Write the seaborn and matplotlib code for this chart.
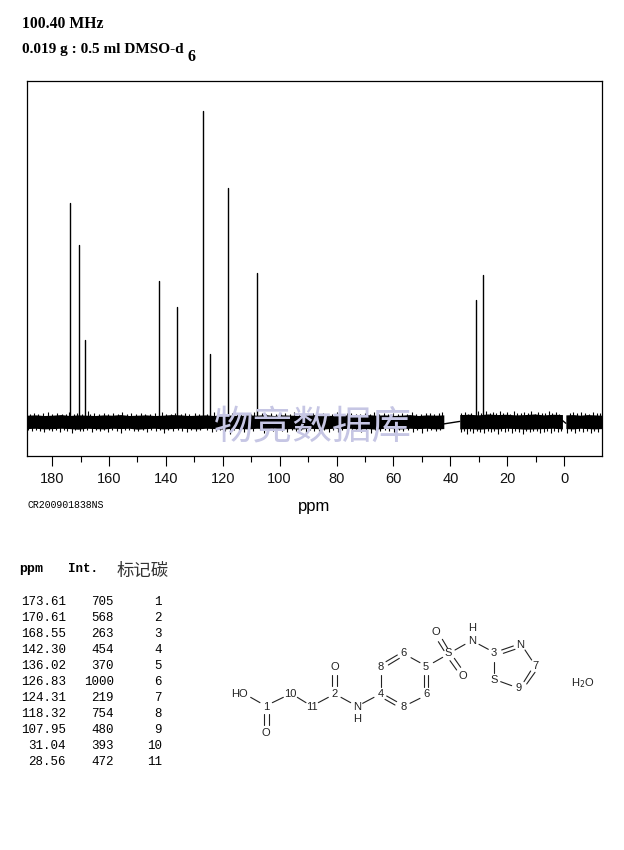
import numpy as np
import pandas as pd
import seaborn as sns
from matplotlib import pyplot as plt

# peak table
ppm = [173.61, 170.61, 168.55, 142.30, 136.02, 126.83, 124.31, 118.32, 107.95, 31.04, 28.56]
intensity = [705, 568, 263, 454, 370, 1000, 219, 754, 480, 393, 472]
carbon = [1, 2, 3, 4, 5, 6, 7, 8, 9, 10, 11]

# solid part of the noise band, about one value per 3 ppm
core_up_a = [23, 24, 22, 23, 25, 22, 24, 23, 22, 24, 23, 25, 22, 23, 24, 22, 23, 25, 24, 22,
             23, 24, 22, 25, 23, 22, 24, 23, 25, 22, 24, 23, 22, 24, 25, 23, 22, 24, 23, 22,
             25, 23, 24, 22, 23, 25, 22, 24, 23, 24]
core_lo_a = [-20, -19, -21, -20, -19, -20, -22, -19, -20, -21, -19, -20, -19, -22, -20, -19, -21, -20, -19, -20,
             -21, -19, -20, -22, -19, -20, -21, -19, -20, -19, -21, -20, -22, -19, -20, -21, -19, -20, -19, -21,
             -20, -22, -19, -20, -21, -19, -20, -19, -21, -20]
core_up_b = [25, 26, 24, 27, 25, 26, 24, 25, 27, 24, 26, 25]
core_lo_b = [-21, -20, -22, -20, -21, -19, -20, -22, -21, -20, -19, -21]
core_up_c = [24, 25, 23, 25, 24, 23]
core_lo_c = [-20, -21, -19, -20, -21, -20]

# single noise spikes sticking out of the band
spike_up_ppm = [187.9, 186.2, 184.8, 183.1, 181.4, 179.9, 178.3, 176.6, 175.2, 174.0, 172.4, 171.2,
                169.6, 167.5, 166.6, 165.1, 163.4, 161.9, 160.3, 158.7, 156.8, 155.4, 153.7, 152.1,
                150.6, 148.8, 147.3, 145.5, 143.9, 141.2, 139.8, 138.1, 136.9, 134.8, 133.2, 131.7,
                129.9, 128.3, 125.6, 123.1, 121.5, 119.9, 116.8, 115.1, 113.6, 111.8, 110.2, 108.9,
                106.3, 104.7, 102.9, 101.4, 99.7, 98.1, 96.3, 94.8, 93.1, 91.6, 89.7, 88.2,
                86.4, 84.9, 83.2, 81.6, 79.8, 78.3, 76.5, 74.9, 73.3, 71.6, 69.9, 68.4,
                66.7, 65.1, 63.3, 61.8, 60.1, 58.4, 56.9, 55.2, 53.6, 51.9, 50.3, 48.6,
                47.2, 45.7, 44.1, 43.0,
                36.1, 35.0, 33.8, 32.6, 30.2, 29.4, 27.3, 26.2, 25.0, 23.9, 22.6, 21.4,
                20.1, 18.9, 17.6, 16.5, 15.2, 14.0, 12.7, 11.5, 10.3, 9.1, 7.8, 6.6,
                5.4, 4.2, 3.0, 1.8, -1.9, -3.2, -4.6, -6.0, -7.3, -8.7, -10.0, -11.4, -12.6]
spike_up_h = [28, 31, 27, 29, 33, 27, 30, 26, 28, 32, 27, 29,
              26, 35, 28, 31, 27, 29, 26, 30, 28, 32, 27, 29,
              26, 31, 28, 27, 30, 33, 26, 28, 31, 27, 29, 26,
              30, 28, 27, 32, 26, 29, 31, 27, 28, 30, 26, 33,
              29, 27, 31, 26, 28, 30, 27, 32, 26, 29, 28, 31,
              27, 30, 26, 28, 32, 27, 29, 31, 26, 28, 30, 27,
              33, 26, 29, 28, 31, 27, 30, 26, 34, 28, 27, 31,
              29, 26, 30, 32,
              30, 33, 28, 31, 35, 29, 37, 31, 34, 29, 36, 30,
              33, 28, 35, 31, 29, 34, 30, 36, 28, 33, 31, 29,
              35, 30, 32, 28, 31, 33, 29, 34, 30, 28, 32, 31, 29]
spike_lo_ppm = [188.3, 187.1, 185.6, 184.2, 182.9, 181.1, 180.0, 178.7, 177.3, 175.9, 174.6, 173.1,
                171.8, 170.1, 169.0, 167.8, 166.1, 164.7, 163.2, 161.6, 160.2, 158.9, 157.3, 155.9,
                154.2, 152.8, 151.1, 149.8, 148.2, 146.7, 145.1, 143.6, 141.9, 140.6, 139.1, 137.5,
                135.6, 134.2, 132.7, 131.3, 129.5, 128.1, 125.4, 123.9, 122.3, 120.8, 119.2, 117.4,
                115.9, 114.2, 112.7, 111.1, 109.4, 106.9, 105.4, 103.8, 102.2, 100.6, 99.0, 97.4,
                95.7, 94.1, 92.6, 90.9, 89.3, 87.8, 86.0, 84.5, 82.8, 81.2, 79.5, 78.0,
                76.2, 74.6, 73.0, 71.3, 69.7, 68.0, 66.4, 64.8, 63.1, 61.5, 59.8, 58.2,
                56.5, 54.9, 53.2, 51.6, 50.0, 48.3, 46.8, 45.2, 43.7,
                36.3, 35.3, 34.2, 33.1, 31.9, 30.7, 29.6, 28.0, 26.9, 25.7, 24.5, 23.3,
                22.1, 20.8, 19.6, 18.3, 17.1, 15.8, 14.6, 13.4, 12.1, 10.9, 9.6, 8.4,
                7.1, 5.9, 4.7, 3.5, 2.2, 1.2, -1.1, -2.4, -3.8, -5.2, -6.5, -7.9, -9.3, -10.6, -12.0]
spike_lo_h = [-26, -29, -24, -27, -31, -25, -28, -24, -30, -26, -28, -33,
              -25, -29, -27, -24, -32, -26, -28, -25, -30, -24, -27, -34,
              -26, -24, -29, -27, -25, -31, -24, -28, -26, -33, -25, -29,
              -24, -27, -30, -25, -28, -26, -24, -31, -27, -25, -29, -36,
              -24, -27, -30, -25, -28, -24, -33, -26, -29, -25, -27, -31,
              -24, -28, -26, -35, -25, -29, -27, -24, -30, -26, -32, -25,
              -28, -24, -27, -30, -26, -34, -25, -29, -24, -27, -31, -25,
              -28, -26, -30, -24, -33, -27, -25, -29, -26,
              -31, -27, -36, -29, -33, -27, -30, -35, -28, -32, -27, -37,
              -29, -31, -28, -34, -27, -30, -36, -28, -32, -29, -27, -33,
              -30, -28, -35, -29, -31, -27, -33, -29, -35, -28, -30, -27, -34, -29, -31]

tick_major = [180, 160, 140, 120, 100, 80, 60, 40, 20, 0]
tick_minor = [170, 150, 130, 110, 90, 70, 50, 30, 10]

# structure drawing, positions
atoms = [('HO', 58, 253), ('1', 138, 290), ('10', 210, 253), ('11', 276, 290), ('2', 343, 253),
         ('O', 343, 172), ('N', 410, 290), ('H', 410, 326), ('4', 482, 253), ('8', 482, 172),
         ('6', 550, 130), ('5', 618, 172), ('6', 618, 253), ('8', 550, 290), ('S', 686, 130),
         ('O', 647, 65), ('O', 727, 198), ('N', 755, 93), ('H', 755, 55), ('3', 822, 130),
         ('N', 899, 105), ('7', 947, 168), ('9', 897, 235), ('S', 822, 211), ('O', 138, 370),
         ('H$_2$O', 1088, 218)]
bonds = [(92, 262, 120, 278), (157, 278, 190, 262), (232, 262, 258, 278), (295, 278, 325, 262),
         (336, 195, 336, 228), (350, 195, 350, 228), (132, 312, 132, 345), (146, 312, 146, 345),
         (363, 262, 392, 278), (428, 280, 462, 262), (482, 195, 482, 230), (498, 155, 532, 135),
         (505, 165, 538, 145), (573, 143, 600, 158), (611, 195, 611, 230), (625, 195, 625, 230),
         (600, 265, 570, 280), (500, 258, 530, 275), (495, 268, 525, 285), (640, 158, 668, 142),
         (655, 95, 672, 122), (667, 88, 683, 115), (690, 152, 710, 180), (703, 145, 722, 172),
         (705, 120, 735, 103), (777, 103, 805, 118), (845, 120, 880, 108), (850, 130, 885, 118),
         (915, 120, 935, 150), (945, 187, 920, 222), (932, 183, 912, 215), (875, 227, 842, 215),
         (822, 155, 822, 190)]

sns.set_style('white')
plt.rcParams['font.family'] = ['Liberation Sans', 'Noto Sans CJK SC']

W, H = 624, 850
fig = plt.figure(figsize=(W / 100, H / 100), dpi=100)
ax = fig.add_axes([27.3 / W, 1 - 456.3 / H, (601.7 - 27.3) / W, (456.3 - 81) / H])

# peaks as separate sticks
df_peaks = pd.DataFrame({
    'ppm': np.repeat(ppm, 2),
    'height': np.column_stack([np.zeros(len(intensity)), intensity]).ravel(),
    'carbon': np.repeat(carbon, 2),
})
sns.lineplot(data=df_peaks, x='ppm', y='height', units='carbon', estimator=None,
             color='black', linewidth=1, sort=False, ax=ax)

# baseline noise, three blocks with the suppressed bits between them
blocks = [(188.8, 42.3, core_up_a, core_lo_a),
          (36.7, 0.6, core_up_b, core_lo_b),
          (-0.6, -13.2, core_up_c, core_lo_c)]
for start, end, up, lo in blocks:
    xs = np.linspace(start, end, len(up))
    ax.fill_between(xs, lo, up, color='black', linewidth=0)
ax.vlines(spike_up_ppm, 0, spike_up_h, color='black', linewidth=0.8)
ax.vlines(spike_lo_ppm, spike_lo_h, 0, color='black', linewidth=0.8)
sns.lineplot(x=[42.3, 36.7], y=[-5, 3], color='black', linewidth=1, ax=ax)
sns.lineplot(x=[0.6, -0.6], y=[6, -3], color='black', linewidth=1, ax=ax)

ax.set_xlim(188.7, -13.2)
ax.set_ylim(-109, 1096)
ax.set_xlabel('')
ax.set_ylabel('')
ax.set_yticks([])
ax.set_xticks(tick_major)
ax.set_xticks(tick_minor, minor=True)
ax.tick_params(axis='x', which='major', bottom=True, length=7, width=0.8, color='black',
               labelsize=10.5, pad=4, labelcolor='#111111')
ax.tick_params(axis='x', which='minor', bottom=True, length=4, width=0.8, color='black')
for side in ax.spines.values():
    side.set_visible(True)
    side.set_color('black')
    side.set_linewidth(0.9)


def put(x, y, s, **kw):
    kw.setdefault('va', 'center')
    kw.setdefault('color', 'black')
    fig.text(x / W, 1 - y / H, s, **kw)


put(313, 427, '物竞数据库', fontsize=28.5, color='#c6c6e4', ha='center',
    family='Noto Sans CJK SC', zorder=10)

put(22, 24, '100.40 MHz', family='Liberation Serif', fontsize=11.3, fontweight='bold')
put(22, 50, '0.019 g : 0.5 ml DMSO-d', family='Liberation Serif', fontsize=11, fontweight='bold')
put(188, 57, '6', family='Liberation Serif', fontsize=11.5, fontweight='bold')

put(314, 506, 'ppm', fontsize=12, ha='center')
put(27, 505, 'CR200901838NS', family='Liberation Mono', fontsize=7.1)

# peak table
put(19, 569, 'ppm', family='Liberation Mono', fontsize=9.5, fontweight='bold')
put(68, 569, 'Int.', family='Liberation Mono', fontsize=9, fontweight='bold')
put(143, 571, '标记碳', family='Noto Sans CJK SC', fontsize=12.5, ha='center', color='#333333')
for i in range(len(ppm)):
    y = 602 + 16 * i
    put(66, y, f'{ppm[i]:.2f}', family='Liberation Mono', fontsize=9, ha='right')
    put(114, y, str(intensity[i]), family='Liberation Mono', fontsize=9, ha='right')
    put(162, y, str(carbon[i]), family='Liberation Mono', fontsize=9, ha='right')

# structure overlay in picture pixels
ov = fig.add_axes([0, 0, 1, 1], facecolor='none')
ov.set_xlim(0, W)
ov.set_ylim(H, 0)
ov.axis('off')
for x0, y0, x1, y1 in bonds:
    ov.plot([220 + x0 / 3, 220 + x1 / 3], [610 + y0 / 3, 610 + y1 / 3], color='#222222', linewidth=0.8)
for label, x, y in atoms:
    ov.text(220 + x / 3, 610 + y / 3, label, fontsize=8, ha='center', va='center', color='#222222')

plt.savefig('out.png', dpi=100)
